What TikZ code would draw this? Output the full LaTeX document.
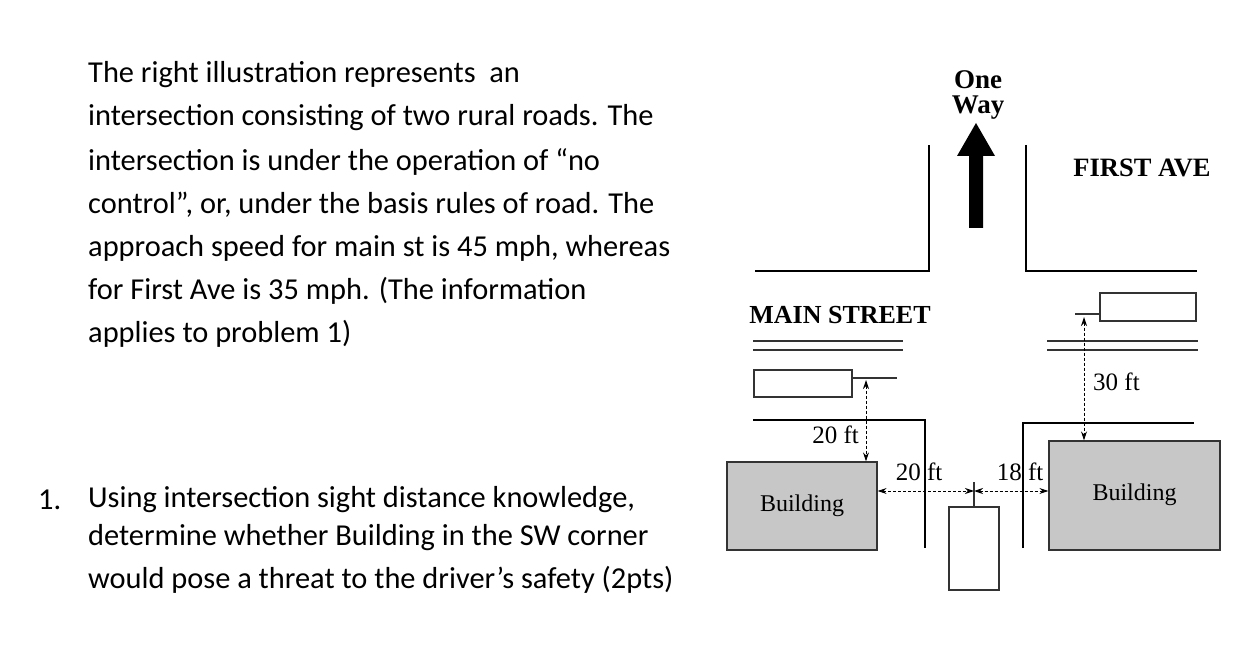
\documentclass[tikz,border=0pt]{standalone}
\usepackage{fontspec}
\setmainfont{Liberation Serif}
\newfontfamily\calib{Carlito}
\usetikzlibrary{arrows.meta}
\begin{document}
\begin{tikzpicture}[x=1pt,y=-1pt,
  txt/.style={anchor=west,inner sep=0pt,font=\calib\fontsize{30.4}{32}\selectfont},
  thin/.style={line width=1.2pt,draw=black!80},
  curb/.style={line width=2.6pt},
  dim/.style={line width=1pt,dashed,dash pattern=on 3pt off 2pt,{Stealth[length=9pt,width=6pt]}-{Stealth[length=9pt,width=6pt]}},
  bldg/.style={draw=black!80,line width=1.2pt,fill=black!22},
  car/.style={draw=black!80,line width=1.2pt,fill=white},
  lab/.style={inner sep=1pt,font=\fontsize{25}{27}\selectfont}]
\useasboundingbox (0,0) rectangle (1250,652);
% left text
\node[txt] (t1) at (88,75) {The right illustration represents\ \ an};
\node[txt] (t2) at (88,118) {intersection consisting of two rural roads. The};
\node[txt] (t3) at (88,162) {intersection is under the operation of “no};
\node[txt] (t4) at (88,205) {control”, or, under the basis rules of road. The};
\node[txt] (t5) at (88,248) {approach speed for main st is 45 mph, whereas};
\node[txt] (t6) at (88,291) {for First Ave is 35 mph. (The information};
\node[txt] (t7) at (88,334) {applies to problem 1)};
\node[txt] (n1) at (38,500) {1.};
\node[txt] (q1) at (88,500) {Using intersection sight distance knowledge,};
\node[txt] (q2) at (88,538) {determine whether Building in the SW corner};
\node[txt] (q3) at (88,580) {would pose a threat to the driver’s safety (2pts)};
% labels
\node[font=\bfseries\fontsize{27}{27}\selectfont,align=center,inner sep=0pt] (ow) at (978,95) {One\\[-2pt]Way};
\node[font=\bfseries\fontsize{26.5}{28}\selectfont,inner sep=0pt] (fa) at (1142,168) {FIRST AVE};
\node[font=\bfseries\fontsize{26}{28}\selectfont,inner sep=0pt] (ms) at (840,315) {MAIN STREET};
% curbs
\draw[curb] (755,271) -- (929,271) -- (929,145);
\draw[curb] (1026,145) -- (1026,271) -- (1197,271);
\draw[curb] (753,420) -- (925,420) -- (925,548);
\draw[curb] (1023,548) -- (1023,423) -- (1194,423);
% one way arrow
\fill (969,228) -- (969,156) -- (957,156) -- (976,123) -- (995,156) -- (983,156) -- (983,228) -- cycle;
% double lines
\draw[thin] (753,341) -- (903,341) (753,350) -- (903,350);
\draw[thin] (1047,341) -- (1198,341) (1047,350) -- (1198,350);
% buildings
\node[bldg,minimum width=150pt,minimum height=88pt,inner sep=0pt] (bw) at (802,506) {};
\node[font=\fontsize{24}{26}\selectfont] (bwl) at (802,506) {Building};
\node[bldg,minimum width=171pt,minimum height=109pt,inner sep=0pt] (be) at (1134.5,495.5) {};
\node[font=\fontsize{24}{26}\selectfont] (bel) at (1134.5,495) {Building};
% cars
\node[car,minimum width=98pt,minimum height=27pt,inner sep=0pt] (cw) at (803,383.5) {};
\draw[thin] (cw.east |- 0,378) -- (897,378);
\node[car,minimum width=96pt,minimum height=28pt,inner sep=0pt] (ce) at (1148,307) {};
\draw[thin] (1075,314) -- (ce.west |- 0,314);
\node[car,minimum width=50pt,minimum height=83pt,inner sep=0pt] (cs) at (974,548.5) {};
\draw[thin] (974,482) -- (cs.north);
% dimensions
\coordinate (w1) at (866,380);
\coordinate (e1) at (1084,317);
\coordinate (tk) at (974,491);
\draw[dim] (w1) -- (w1 |- bw.north);
\node[lab,anchor=east] (l20a) at (860,435) {20 ft};
\draw[dim] (e1) -- (e1 |- be.north);
\node[lab,anchor=west] (l30) at (1092,382) {30 ft};
\draw[dim] (bw.east |- tk) -- (tk);
\draw[dim] (tk) -- (be.west |- tk);
\node[lab] (l20b) at (919,472) {20 ft};
\node[lab] (l18) at (1020,472) {18 ft};
\end{tikzpicture}
\end{document}
